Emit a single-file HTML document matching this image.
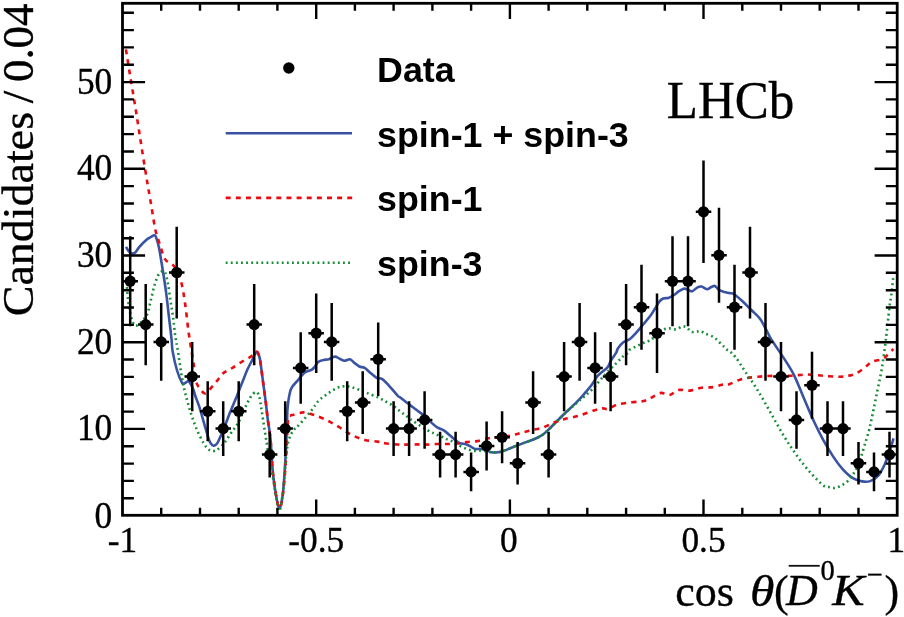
<!DOCTYPE html>
<html lang="en"><head><meta charset="utf-8"><title>LHCb cos theta</title>
<style>html,body{margin:0;padding:0;background:#fff}svg{display:block}.ser{font-family:"Liberation Serif",serif;fill:#000;stroke:#000;stroke-width:0.35}.san{font-family:"Liberation Sans",sans-serif;font-weight:bold;fill:#000}</style></head><body>
<svg width="904" height="617" viewBox="0 0 904 617">
<rect width="904" height="617" fill="#fff"/>
<g fill="none" stroke-width="2.6" stroke-linejoin="round">
<path d="M126.0,246.9C126.4,247.6 127.6,249.9 128.5,251.0C129.4,252.1 130.3,252.9 131.4,253.2C132.5,253.5 133.6,253.9 134.9,252.8C136.2,251.8 137.5,249.1 139.4,246.9C141.3,244.7 144.6,241.5 146.5,239.8C148.4,238.2 149.7,237.8 151.0,237.0C152.3,236.2 153.6,235.1 154.5,235.3C155.4,235.5 155.6,235.9 156.3,238.0C157.1,240.1 157.9,242.6 159.0,247.8C160.1,253.0 161.4,261.8 162.6,269.2C163.8,276.6 165.1,284.7 166.1,292.4C167.1,300.1 167.9,307.9 168.8,315.6C169.7,323.3 170.9,332.9 171.5,338.8C172.1,344.7 171.7,345.9 172.6,351.1C173.5,356.3 175.3,364.6 176.9,370.0C178.5,375.4 181.0,381.1 182.3,383.3C183.6,385.5 183.9,383.4 184.9,383.1C185.9,382.8 187.2,381.1 188.2,381.3C189.2,381.5 190.0,382.9 190.9,384.4C191.8,385.8 192.7,388.0 193.5,390.0C194.3,392.0 194.5,393.6 195.5,396.5C196.5,399.4 197.9,402.4 199.5,407.3C201.1,412.2 203.2,420.5 204.8,425.8C206.4,431.1 207.8,436.1 208.8,439.1C209.8,442.1 210.2,442.7 211.0,443.8C211.8,444.9 212.7,445.7 213.5,445.8C214.3,445.9 215.2,445.3 216.0,444.6C216.8,443.9 216.9,444.3 218.1,441.8C219.3,439.3 221.4,434.7 223.4,429.8C225.4,424.9 227.8,418.2 230.0,412.6C232.2,407.0 234.7,401.3 236.7,396.4C238.7,391.5 240.2,387.5 242.0,383.1C243.8,378.7 245.5,373.8 247.3,369.8C249.1,365.8 251.3,361.9 252.6,359.2C253.9,356.5 254.5,354.8 255.3,353.6C256.1,352.4 256.5,351.4 257.2,351.9C257.9,352.4 258.7,354.6 259.3,356.5C259.9,358.4 260.0,358.8 260.6,363.2C261.2,367.6 262.3,376.4 263.2,383.1C264.1,389.8 265.1,397.1 265.9,403.3C266.7,409.5 267.2,415.4 267.9,420.5C268.6,425.6 269.4,429.7 269.9,433.8C270.4,437.9 270.5,438.3 271.0,445.0C271.5,451.7 272.0,464.6 273.0,473.8C274.0,483.0 275.8,494.3 276.9,500.0C278.0,505.7 278.9,508.7 279.8,508.0C280.8,507.3 281.8,501.3 282.6,495.6C283.4,489.9 284.0,481.1 284.5,473.8C285.0,466.5 285.4,460.0 285.8,451.9C286.2,443.8 286.7,432.6 287.0,425.0C287.3,417.4 287.0,412.4 287.7,406.4C288.4,400.4 289.2,393.5 291.0,389.1C292.8,384.7 296.0,382.6 298.3,379.8C300.6,377.0 302.7,374.1 304.9,372.5C307.1,370.9 309.8,370.9 311.5,369.9C313.2,368.9 313.8,367.8 314.9,366.5C316.0,365.2 316.8,363.0 318.2,361.9C319.6,360.8 321.7,360.3 323.5,359.9C325.3,359.4 326.9,359.8 328.8,359.2C330.7,358.6 333.0,356.7 334.8,356.6C336.6,356.5 337.8,357.9 339.4,358.6C340.9,359.3 342.3,360.7 344.1,360.8C345.9,360.9 348.4,358.9 350.0,359.2C351.6,359.5 352.4,361.4 354.0,362.6C355.6,363.8 357.5,365.6 359.3,366.5C361.1,367.4 362.8,366.9 364.6,367.9C366.4,368.9 368.0,370.9 370.0,372.5C372.0,374.1 374.6,376.8 376.6,377.8C378.6,378.9 379.9,377.6 381.9,378.8C383.9,380.0 385.9,382.3 388.5,385.1C391.1,387.9 395.9,393.8 397.8,395.8C399.7,397.8 398.1,395.8 400.0,397.3C401.9,398.8 406.4,402.4 409.3,404.6C412.2,406.8 414.7,408.5 417.3,410.5C419.9,412.5 422.8,414.4 425.2,416.5C427.6,418.6 429.9,421.3 431.9,423.1C433.9,424.9 435.2,426.2 437.2,427.4C439.2,428.6 441.6,429.0 443.8,430.4C446.0,431.8 448.4,434.1 450.4,435.8C452.4,437.5 454.2,439.2 455.8,440.4C457.4,441.6 457.9,442.4 459.7,443.1C461.5,443.8 464.6,443.8 466.4,444.4C468.2,444.9 469.0,445.6 470.4,446.4C471.8,447.2 473.5,448.6 475.0,449.0C476.5,449.4 477.9,448.9 479.6,449.0C481.3,449.1 483.0,449.1 485.0,449.7C487.0,450.2 489.4,451.9 491.6,452.3C493.8,452.7 496.0,452.6 498.2,452.3C500.4,452.0 502.7,451.2 504.9,450.4C507.1,449.6 509.0,448.7 511.5,447.7C514.0,446.7 517.6,445.3 520.0,444.4C522.4,443.5 523.4,443.1 526.0,442.1C528.6,441.1 532.9,439.8 535.7,438.5C538.5,437.2 540.9,436.0 543.0,434.5C545.1,433.0 545.1,432.9 548.5,429.6C551.9,426.4 558.5,419.5 563.1,415.0C567.8,410.5 572.9,405.9 576.4,402.4C579.9,398.9 581.6,396.9 584.3,393.8C586.9,390.7 590.1,386.9 592.3,383.9C594.5,380.9 595.8,378.0 597.6,375.9C599.4,373.8 601.2,372.6 602.9,371.2C604.6,369.8 606.3,369.1 607.6,367.3C608.9,365.5 609.5,363.0 610.9,360.6C612.3,358.2 615.0,354.8 616.2,352.7C617.4,350.6 616.8,350.0 618.0,348.3C619.2,346.6 621.3,343.9 623.3,342.3C625.3,340.8 627.7,340.6 629.9,339.0C632.1,337.4 634.3,334.8 636.5,332.4C638.7,330.0 641.0,327.0 643.2,324.4C645.4,321.8 647.8,319.1 649.8,316.5C651.8,313.9 653.5,310.9 655.1,308.5C656.7,306.1 657.8,303.6 659.1,301.9C660.4,300.2 661.6,299.2 663.1,298.5C664.6,297.8 666.6,298.4 668.4,297.9C670.2,297.3 671.9,296.3 673.7,295.2C675.5,294.1 677.2,292.3 679.0,291.2C680.8,290.1 682.8,288.8 684.3,288.6C685.8,288.4 687.0,289.5 688.3,289.9C689.6,290.3 690.8,291.6 692.3,291.2C693.8,290.8 696.0,288.1 697.6,287.3C699.2,286.5 700.1,286.3 701.6,286.6C703.1,286.9 705.4,289.1 706.9,289.2C708.4,289.3 709.6,287.9 710.9,287.3C712.2,286.8 713.6,285.5 714.9,285.9C716.2,286.3 717.3,288.9 718.9,289.9C720.5,290.9 722.4,291.3 724.2,291.9C726.1,292.4 728.4,292.8 730.0,293.2C731.6,293.6 731.7,292.6 733.8,294.0C735.9,295.4 739.6,298.6 742.5,301.3C745.4,304.0 748.4,307.1 751.3,310.0C754.2,312.9 757.3,315.2 760.0,318.8C762.7,322.4 765.4,328.5 767.3,331.9C769.2,335.3 768.5,334.9 771.3,339.4C774.1,343.9 780.5,352.9 784.3,358.9C788.1,364.8 790.8,368.6 794.0,375.1C797.2,381.6 800.5,390.2 803.7,397.8C807.0,405.4 810.2,413.5 813.5,420.5C816.8,427.5 820.0,434.0 823.2,439.9C826.4,445.8 829.7,451.2 832.9,456.1C836.1,461.0 839.4,465.5 842.6,469.1C845.9,472.7 849.1,475.8 852.4,477.9C855.6,479.9 859.1,480.9 862.1,481.4C865.1,481.9 867.5,482.1 870.2,481.1C872.9,480.1 875.9,478.4 878.3,475.6C880.7,472.8 882.9,468.2 884.8,464.2C886.7,460.1 888.1,455.6 889.6,451.3C891.1,447.0 892.9,440.5 893.5,438.3" stroke="#3953a4"/>
<path d="M125.9,49.4C126.6,53.7 128.5,65.7 130.0,75.0C131.5,84.3 133.3,94.7 135.0,105.0C136.7,115.3 138.1,124.8 140.0,137.0C141.9,149.2 144.9,168.1 146.6,178.3C148.3,188.5 148.5,189.4 150.0,198.0C151.5,206.6 153.8,222.3 155.4,230.0C157.1,237.7 158.3,239.4 159.9,244.3C161.5,249.2 162.8,255.7 165.2,259.4C167.6,263.1 171.5,262.7 174.2,266.5C176.9,270.3 179.4,276.1 181.2,282.3C183.0,288.5 183.9,295.8 185.1,303.7C186.3,311.6 187.3,322.7 188.3,330.0C189.3,337.3 190.0,341.8 190.9,347.3C191.8,352.8 192.6,357.4 193.5,363.2C194.4,368.9 195.0,377.4 196.2,381.8C197.4,386.2 199.4,387.8 200.8,389.7C202.2,391.6 203.4,393.5 204.8,393.5C206.2,393.5 207.5,391.8 209.5,389.7C211.5,387.6 214.5,383.9 216.8,381.1C219.1,378.3 221.0,375.2 223.4,373.1C225.8,371.0 228.5,370.3 231.4,368.5C234.3,366.7 237.6,364.4 240.7,362.5C243.8,360.6 247.6,358.8 250.0,357.2C252.4,355.6 254.1,354.1 255.3,353.2C256.5,352.3 256.5,351.3 257.2,351.9C257.9,352.4 258.7,354.6 259.3,356.5C259.9,358.4 260.0,358.8 260.6,363.2C261.2,367.6 262.3,376.4 263.2,383.1C264.1,389.8 265.1,397.1 265.9,403.3C266.7,409.5 267.2,415.4 267.9,420.5C268.6,425.6 269.4,429.7 269.9,433.8C270.4,437.9 270.5,438.3 271.0,445.0C271.5,451.7 272.0,464.6 273.0,473.8C274.0,483.0 275.8,494.3 276.9,500.0C278.0,505.7 278.8,508.7 279.8,508.0C280.8,507.3 281.9,501.3 282.7,495.6C283.5,489.9 284.3,481.1 284.9,473.8C285.5,466.5 285.9,460.9 286.4,451.9C286.9,442.9 287.4,426.1 288.1,420.0C288.8,413.9 289.6,416.4 290.5,415.5C291.4,414.6 291.5,415.2 293.6,414.7C295.7,414.2 300.1,412.4 303.3,412.4C306.6,412.4 309.3,413.5 313.1,414.7C316.9,415.9 321.7,417.8 326.0,419.8C330.3,421.9 334.7,424.4 339.0,427.0C343.3,429.6 347.7,433.0 352.0,435.1C356.3,437.2 360.6,438.8 364.9,439.9C369.2,441.0 374.5,441.0 377.9,441.6C381.2,442.2 381.8,442.8 385.0,443.3C388.2,443.8 393.8,444.3 397.2,444.5C400.6,444.7 401.9,444.6 405.3,444.6C408.7,444.6 413.8,444.4 417.3,444.4C420.8,444.4 423.2,444.7 426.5,444.6C429.8,444.5 433.6,444.1 437.2,444.0C440.8,443.9 444.5,444.1 447.8,444.0C451.1,443.9 454.0,443.8 457.1,443.5C460.2,443.2 463.1,442.5 466.4,442.1C469.7,441.7 473.5,441.7 477.0,441.1C480.5,440.5 484.5,439.0 487.6,438.4C490.7,437.8 491.8,438.1 495.6,437.7C499.4,437.3 506.1,436.6 510.2,435.8C514.3,435.0 516.5,434.0 520.0,433.1C523.5,432.2 527.1,431.3 530.9,430.4C534.7,429.5 539.0,428.9 543.0,427.5C547.0,426.1 551.6,423.4 555.2,422.0C558.9,420.6 560.9,420.1 564.9,419.0C568.9,417.9 574.4,417.1 579.2,415.7C584.0,414.3 589.9,411.6 593.8,410.4C597.7,409.2 600.1,408.6 602.5,408.4C604.9,408.2 605.9,409.6 608.3,409.0C610.7,408.4 613.2,405.7 617.1,404.6C621.0,403.5 627.3,402.9 631.7,402.3C636.1,401.7 640.0,401.9 643.4,401.1C646.8,400.3 649.2,398.7 652.1,397.3C655.0,395.9 658.0,393.3 660.9,392.9C663.8,392.5 666.7,395.5 669.6,395.0C672.5,394.5 675.0,390.7 678.4,390.0C681.8,389.3 686.1,391.0 690.0,390.6C693.9,390.2 697.8,388.3 701.7,387.7C705.6,387.1 710.0,387.6 713.4,387.1C716.8,386.6 719.5,385.3 722.1,384.8C724.7,384.3 725.9,385.2 729.2,384.2C732.5,383.2 737.2,380.2 742.1,379.0C747.0,377.8 752.9,377.2 758.3,376.7C763.7,376.2 769.2,375.9 774.6,375.8C780.0,375.7 785.4,376.0 790.8,375.8C796.2,375.6 801.6,374.5 807.0,374.5C812.4,374.5 817.8,375.4 823.2,375.8C828.6,376.2 835.3,376.7 839.4,376.7C843.5,376.7 845.3,376.3 848.0,375.8C850.7,375.3 853.0,375.0 855.7,373.7C858.4,372.4 861.7,369.8 864.4,367.9C867.1,365.9 868.8,363.5 871.7,362.0C874.6,360.5 879.2,360.3 881.9,359.1C884.6,357.9 885.8,356.5 887.7,354.8C889.6,353.1 892.4,349.9 893.3,348.9" stroke="#eb0a10" stroke-dasharray="4.95 5.18"/>
<path d="M126.9,287.0C127.1,288.8 127.3,293.8 127.8,297.7C128.2,301.6 128.8,306.3 129.6,310.2C130.3,314.1 131.4,318.4 132.3,320.9C133.2,323.4 133.8,324.8 134.9,325.4C136.0,326.0 137.7,325.4 139.0,324.5C140.3,323.6 141.6,321.8 143.0,320.0C144.4,318.2 146.1,317.2 147.4,313.8C148.7,310.4 149.8,304.2 151.0,299.5C152.2,294.8 153.3,289.3 154.5,285.3C155.7,281.3 156.9,277.8 158.1,275.5C159.3,273.2 160.5,271.8 161.7,271.4C162.9,270.9 164.2,270.8 165.2,272.8C166.2,274.8 167.0,278.8 167.9,283.5C168.8,288.2 169.7,295.4 170.6,301.3C171.5,307.2 172.5,313.2 173.3,319.1C174.1,325.1 174.6,331.7 175.4,337.0C176.2,342.3 177.0,345.2 177.9,351.1C178.8,357.0 180.2,366.8 181.1,372.1C181.9,377.4 182.4,379.7 183.0,383.0C183.6,386.3 184.1,388.9 184.9,392.0C185.7,395.1 186.5,398.0 187.6,401.9C188.7,405.8 189.9,410.5 191.5,415.2C193.1,419.9 194.9,425.1 196.9,429.8C198.9,434.5 201.7,439.9 203.5,443.1C205.3,446.3 206.7,447.5 208.0,448.8C209.3,450.1 210.3,450.8 211.5,451.1C212.7,451.4 213.9,451.1 215.0,450.8C216.1,450.5 216.5,450.5 218.1,449.1C219.7,447.7 222.5,445.2 224.7,442.4C226.9,439.6 229.2,435.7 231.4,432.5C233.6,429.3 235.8,427.2 238.0,423.2C240.2,419.2 242.6,412.8 244.6,408.6C246.6,404.4 248.5,400.5 250.0,398.0C251.5,395.5 252.5,394.5 253.5,393.5C254.5,392.5 255.2,392.0 255.9,392.0C256.6,392.0 257.2,392.5 257.8,393.3C258.4,394.1 258.7,394.3 259.3,396.6C259.9,398.9 260.6,403.3 261.2,407.3C261.8,411.3 262.5,416.1 263.2,420.5C263.9,424.9 264.5,429.6 265.2,433.8C265.9,438.0 266.5,441.8 267.2,445.8C267.9,449.8 268.4,453.0 269.3,458.0C270.2,463.0 271.2,467.8 272.6,475.6C274.0,483.4 276.2,499.1 277.4,504.8C278.6,510.5 278.8,512.5 279.8,510.0C280.8,507.5 282.1,499.0 283.2,490.0C284.3,481.0 285.3,464.3 286.2,456.0C287.1,447.7 287.6,444.3 288.8,440.0C290.0,435.7 291.7,432.9 293.6,430.2C295.5,427.5 297.1,427.0 300.1,423.7C303.1,420.4 308.5,414.2 311.5,410.4C314.5,406.6 316.0,403.5 318.2,401.1C320.4,398.7 322.6,397.5 324.8,395.8C327.0,394.1 329.3,392.5 331.5,391.1C333.7,389.7 335.9,388.3 338.1,387.5C340.3,386.7 342.5,386.3 344.7,386.2C346.9,386.1 349.0,386.5 351.4,387.1C353.8,387.7 356.6,388.8 359.3,389.8C362.0,390.8 364.2,391.9 367.3,393.1C370.4,394.4 374.8,395.9 377.9,397.3C381.0,398.7 383.2,400.2 385.9,401.7C388.6,403.2 391.5,404.8 393.9,406.4C396.2,408.0 398.1,409.7 400.0,411.2C401.9,412.7 403.5,413.9 405.3,415.2C407.1,416.5 408.3,417.6 410.6,419.2C412.9,420.8 416.1,423.1 419.0,425.0C421.9,426.9 425.3,428.9 427.9,430.4C430.5,431.9 432.3,432.8 434.5,433.8C436.7,434.8 439.2,435.5 441.2,436.4C443.2,437.3 444.7,438.3 446.5,439.1C448.3,439.9 450.2,440.3 451.8,441.1C453.4,441.9 454.0,442.7 455.8,443.7C457.6,444.7 460.2,446.0 462.4,447.0C464.6,448.0 466.8,449.0 469.0,449.7C471.2,450.4 473.5,450.9 475.7,451.0C477.9,451.1 480.3,450.3 482.3,450.4C484.3,450.5 486.1,451.4 487.6,451.7C489.2,452.0 489.8,452.2 491.6,452.3C493.4,452.4 496.0,452.6 498.2,452.3C500.4,452.0 502.7,451.2 504.9,450.4C507.1,449.6 509.0,448.7 511.5,447.7C514.0,446.7 517.6,445.3 520.0,444.4C522.4,443.5 523.4,443.1 526.0,442.1C528.6,441.1 532.9,439.8 535.7,438.5C538.5,437.2 540.9,436.0 543.0,434.5C545.1,433.0 545.1,432.9 548.5,429.6C551.9,426.4 558.5,419.4 563.1,415.0C567.8,410.6 572.9,406.2 576.4,403.1C579.9,400.0 581.6,398.8 584.3,396.5C586.9,394.2 589.6,392.0 592.3,389.2C595.0,386.4 597.6,382.9 600.3,379.9C602.9,376.9 605.6,374.0 608.2,371.2C610.9,368.4 613.8,365.7 616.2,363.3C618.6,360.9 620.8,358.4 622.8,356.6C624.8,354.8 626.9,353.9 628.1,352.7C629.3,351.5 628.5,350.7 629.9,349.6C631.3,348.5 634.3,347.4 636.5,346.3C638.7,345.2 641.0,344.0 643.2,343.0C645.4,342.0 647.8,341.5 649.8,340.4C651.8,339.3 652.9,338.2 655.1,336.4C657.3,334.6 660.7,331.0 663.1,329.7C665.5,328.4 667.5,328.5 669.7,328.4C671.9,328.3 674.3,329.6 676.4,329.3C678.5,329.0 680.5,326.7 682.3,326.4C684.1,326.1 685.5,326.8 687.0,327.7C688.5,328.6 689.5,331.0 691.0,331.7C692.5,332.4 694.8,331.8 696.3,331.7C697.8,331.6 698.8,330.8 700.3,331.1C701.8,331.4 703.4,332.7 705.6,333.7C707.8,334.7 711.3,335.7 713.5,337.0C715.7,338.3 717.1,340.0 718.9,341.7C720.7,343.4 722.9,345.7 724.2,347.0C725.5,348.3 725.8,348.9 726.8,349.6C727.8,350.4 728.5,350.2 730.0,351.5C731.5,352.8 733.1,353.9 735.7,357.3C738.3,360.7 741.6,366.2 745.4,371.9C749.2,377.6 754.0,384.3 758.3,391.3C762.6,398.3 767.0,406.4 771.3,414.0C775.6,421.6 780.0,429.7 784.3,436.7C788.6,443.7 792.9,450.2 797.2,456.1C801.5,462.1 805.9,467.5 810.2,472.4C814.5,477.3 820.3,482.9 823.2,485.3C826.1,487.7 825.9,486.4 827.8,486.8C829.7,487.2 832.2,488.2 834.4,488.0C836.6,487.8 838.9,486.8 841.1,485.7C843.3,484.6 845.7,483.0 847.7,481.1C849.7,479.2 851.5,476.6 853.0,474.4C854.5,472.2 855.7,470.7 857.0,467.8C858.3,464.9 859.7,461.2 861.0,457.2C862.3,453.2 863.7,448.3 865.0,443.9C866.3,439.5 867.9,434.8 869.0,430.6C870.1,426.5 870.4,424.6 871.6,419.0C872.8,413.4 874.4,405.5 876.1,397.0C877.8,388.5 880.2,378.1 881.9,367.9C883.6,357.7 885.1,345.5 886.3,335.8C887.5,326.1 888.4,316.4 889.2,309.6C890.0,302.8 890.6,300.3 891.3,295.0C892.0,289.7 892.9,280.6 893.2,277.7" stroke="#168c34" stroke-dasharray="1.85 3.25"/>
<path d="M225.7,133.2H352" stroke="#3953a4"/>
<path d="M225.7,197.9H352.2" stroke="#eb0a10" stroke-dasharray="4.95 5.18"/>
<path d="M225.7,262.8H350" stroke="#168c34" stroke-dasharray="1.85 3.25"/>
</g>
<g stroke="#000" fill="none">
<rect x="122.5" y="3.3" width="774.7" height="512.0" stroke-width="2.8"/>
<path d="M161.2,3.3v7.5M161.2,515.3v-7.5M200.0,3.3v7.5M200.0,515.3v-7.5M238.7,3.3v7.5M238.7,515.3v-7.5M277.4,3.3v7.5M277.4,515.3v-7.5M316.2,3.3v15.7M316.2,515.3v-15.7M354.9,3.3v7.5M354.9,515.3v-7.5M393.6,3.3v7.5M393.6,515.3v-7.5M432.4,3.3v7.5M432.4,515.3v-7.5M471.1,3.3v7.5M471.1,515.3v-7.5M509.9,3.3v15.7M509.9,515.3v-15.7M548.6,3.3v7.5M548.6,515.3v-7.5M587.3,3.3v7.5M587.3,515.3v-7.5M626.1,3.3v7.5M626.1,515.3v-7.5M664.8,3.3v7.5M664.8,515.3v-7.5M703.5,3.3v15.7M703.5,515.3v-15.7M742.3,3.3v7.5M742.3,515.3v-7.5M781.0,3.3v7.5M781.0,515.3v-7.5M819.7,3.3v7.5M819.7,515.3v-7.5M858.5,3.3v7.5M858.5,515.3v-7.5M122.5,498.3h11.4M897.2,498.3h-11.4M122.5,480.9h11.4M897.2,480.9h-11.4M122.5,463.6h11.4M897.2,463.6h-11.4M122.5,446.2h11.4M897.2,446.2h-11.4M122.5,428.9h22.6M897.2,428.9h-22.6M122.5,411.6h11.4M897.2,411.6h-11.4M122.5,394.2h11.4M897.2,394.2h-11.4M122.5,376.9h11.4M897.2,376.9h-11.4M122.5,359.5h11.4M897.2,359.5h-11.4M122.5,342.2h22.6M897.2,342.2h-22.6M122.5,324.9h11.4M897.2,324.9h-11.4M122.5,307.5h11.4M897.2,307.5h-11.4M122.5,290.2h11.4M897.2,290.2h-11.4M122.5,272.8h11.4M897.2,272.8h-11.4M122.5,255.5h22.6M897.2,255.5h-22.6M122.5,238.2h11.4M897.2,238.2h-11.4M122.5,220.8h11.4M897.2,220.8h-11.4M122.5,203.5h11.4M897.2,203.5h-11.4M122.5,186.1h11.4M897.2,186.1h-11.4M122.5,168.8h22.6M897.2,168.8h-22.6M122.5,151.5h11.4M897.2,151.5h-11.4M122.5,134.1h11.4M897.2,134.1h-11.4M122.5,116.8h11.4M897.2,116.8h-11.4M122.5,99.4h11.4M897.2,99.4h-11.4M122.5,82.1h22.6M897.2,82.1h-22.6M122.5,64.8h11.4M897.2,64.8h-11.4M122.5,47.4h11.4M897.2,47.4h-11.4M122.5,30.1h11.4M897.2,30.1h-11.4M122.5,12.7h11.4M897.2,12.7h-11.4" stroke-width="2.4"/>
</g>
<path d="M130.2,236.2V326.3M122.5,281.2H138.0M145.7,283.9V365.2M138.0,324.6H153.5M161.2,303.1V380.7M153.5,341.9H169.0M176.7,226.7V318.4M169.0,272.5H184.5M192.2,341.9V411.3M184.5,376.6H200.0M207.7,381.2V441.3M200.0,411.3H215.5M223.2,401.2V456.0M215.5,428.6H231.0M238.7,381.2V441.3M231.0,411.3H246.5M254.2,283.9V365.2M246.5,324.6H261.9M269.7,431.7V477.5M261.9,454.6H277.4M285.2,401.2V456.0M277.4,428.6H292.9M300.7,332.2V403.7M292.9,367.9H308.4M316.2,293.5V373.0M308.4,333.2H323.9M331.7,303.1V380.7M323.9,341.9H339.4M347.2,381.2V441.3M339.4,411.3H354.9M362.7,371.3V433.9M354.9,402.6H370.4M378.2,322.5V396.0M370.4,359.2H385.9M393.6,401.2V456.0M385.9,428.6H401.4M409.1,401.2V456.0M401.4,428.6H416.9M424.6,391.2V448.7M416.9,419.9H432.4M440.1,431.7V477.5M432.4,454.6H447.9M455.6,431.7V477.5M447.9,454.6H463.4M471.1,452.6V491.3M463.4,471.9H478.9M486.6,421.4V470.5M478.9,445.9H494.4M502.1,411.3V463.3M494.4,437.3H509.9M517.6,442.0V484.5M509.8,463.3H525.3M533.1,371.3V433.9M525.3,402.6H540.8M548.6,431.7V477.5M540.8,454.6H556.3M564.1,341.9V411.3M556.3,376.6H571.8M579.6,303.1V380.7M571.8,341.9H587.3M595.1,332.2V403.7M587.3,367.9H602.8M610.6,341.9V411.3M602.8,376.6H618.3M626.1,283.9V365.2M618.3,324.6H633.8M641.5,264.7V349.7M633.8,307.2H649.3M657.0,293.5V373.0M649.3,333.2H664.8M672.5,236.2V326.3M664.8,281.2H680.3M688.0,236.2V326.3M680.3,281.2H695.8M703.5,160.6V263.1M695.8,211.8H711.3M719.0,207.7V302.7M711.3,255.2H726.8M734.5,264.7V349.7M726.8,307.2H742.3M750.0,226.7V318.4M742.3,272.5H757.8M765.5,303.1V380.7M757.8,341.9H773.2M781.0,341.9V411.3M773.2,376.6H788.7M796.5,391.2V448.7M788.7,419.9H804.2M812.0,351.7V418.8M804.2,385.2H819.7M827.5,401.2V456.0M819.7,428.6H835.2M843.0,401.2V456.0M835.2,428.6H850.7M858.5,442.0V484.5M850.7,463.3H866.2M874.0,452.6V491.3M866.2,471.9H881.7M889.5,431.7V477.5M881.7,454.6H897.2" stroke="#000" stroke-width="2.5" fill="none"/>
<g fill="#000"><circle cx="130.2" cy="281.2" r="5.6"/><circle cx="145.7" cy="324.6" r="5.6"/><circle cx="161.2" cy="341.9" r="5.6"/><circle cx="176.7" cy="272.5" r="5.6"/><circle cx="192.2" cy="376.6" r="5.6"/><circle cx="207.7" cy="411.3" r="5.6"/><circle cx="223.2" cy="428.6" r="5.6"/><circle cx="238.7" cy="411.3" r="5.6"/><circle cx="254.2" cy="324.6" r="5.6"/><circle cx="269.7" cy="454.6" r="5.6"/><circle cx="285.2" cy="428.6" r="5.6"/><circle cx="300.7" cy="367.9" r="5.6"/><circle cx="316.2" cy="333.2" r="5.6"/><circle cx="331.7" cy="341.9" r="5.6"/><circle cx="347.2" cy="411.3" r="5.6"/><circle cx="362.7" cy="402.6" r="5.6"/><circle cx="378.2" cy="359.2" r="5.6"/><circle cx="393.6" cy="428.6" r="5.6"/><circle cx="409.1" cy="428.6" r="5.6"/><circle cx="424.6" cy="419.9" r="5.6"/><circle cx="440.1" cy="454.6" r="5.6"/><circle cx="455.6" cy="454.6" r="5.6"/><circle cx="471.1" cy="471.9" r="5.6"/><circle cx="486.6" cy="445.9" r="5.6"/><circle cx="502.1" cy="437.3" r="5.6"/><circle cx="517.6" cy="463.3" r="5.6"/><circle cx="533.1" cy="402.6" r="5.6"/><circle cx="548.6" cy="454.6" r="5.6"/><circle cx="564.1" cy="376.6" r="5.6"/><circle cx="579.6" cy="341.9" r="5.6"/><circle cx="595.1" cy="367.9" r="5.6"/><circle cx="610.6" cy="376.6" r="5.6"/><circle cx="626.1" cy="324.6" r="5.6"/><circle cx="641.5" cy="307.2" r="5.6"/><circle cx="657.0" cy="333.2" r="5.6"/><circle cx="672.5" cy="281.2" r="5.6"/><circle cx="688.0" cy="281.2" r="5.6"/><circle cx="703.5" cy="211.8" r="5.6"/><circle cx="719.0" cy="255.2" r="5.6"/><circle cx="734.5" cy="307.2" r="5.6"/><circle cx="750.0" cy="272.5" r="5.6"/><circle cx="765.5" cy="341.9" r="5.6"/><circle cx="781.0" cy="376.6" r="5.6"/><circle cx="796.5" cy="419.9" r="5.6"/><circle cx="812.0" cy="385.2" r="5.6"/><circle cx="827.5" cy="428.6" r="5.6"/><circle cx="843.0" cy="428.6" r="5.6"/><circle cx="858.5" cy="463.3" r="5.6"/><circle cx="874.0" cy="471.9" r="5.6"/><circle cx="889.5" cy="454.6" r="5.6"/><circle cx="288.8" cy="68" r="5.7"/></g>
<g class="ser" font-size="36">
<text transform="translate(112.3,527.8) scale(0.983,1.035)" text-anchor="end">0</text>
<text transform="translate(112.3,440.3) scale(0.983,1.035)" text-anchor="end">10</text>
<text transform="translate(112.3,353.6) scale(0.983,1.035)" text-anchor="end">20</text>
<text transform="translate(112.3,266.9) scale(0.983,1.035)" text-anchor="end">30</text>
<text transform="translate(112.3,180.2) scale(0.983,1.035)" text-anchor="end">40</text>
<text transform="translate(112.3,93.5) scale(0.983,1.035)" text-anchor="end">50</text>
<text transform="translate(122.5,552.4) scale(0.98,1.02)" text-anchor="middle">-1</text>
<text transform="translate(316.2,552.4) scale(0.98,1.02)" text-anchor="middle">-0.5</text>
<text transform="translate(508.9,552.4) scale(0.98,1.02)" text-anchor="middle">0</text>
<text transform="translate(703.5,552.4) scale(0.98,1.02)" text-anchor="middle">0.5</text>
<text transform="translate(896.4,552.4) scale(0.98,1.02)" text-anchor="middle">1</text>
</g>
<text class="ser" font-size="44.9" text-anchor="end" transform="translate(32.7,3.5) rotate(-90) scale(1,0.965)"><tspan font-size="46">Candidates</tspan><tspan dx="-2.6"> /</tspan><tspan dx="-2.5"> 0.04</tspan></text>
<g class="ser" font-size="44"><text x="675.2" y="606">cos</text><text transform="translate(750.0,606) scale(1.13,1)" font-style="italic">θ</text><text x="774.0" y="606">(</text><text x="786.0" y="605.2" font-style="italic">D</text><text x="820.5" y="579.6" font-size="28.5">0</text><text transform="translate(832.3,605.2) scale(1.1,1)" font-style="italic">K</text><text x="866.5" y="584" font-size="28.5">−</text><text x="884.5" y="606">)</text></g>
<path d="M788.7,565.8H819.7" stroke="#111" stroke-width="1.8"/>
<text class="ser" font-size="51" transform="translate(666.8,117.6) scale(1,1.015)">LHCb</text>
<g class="san" font-size="35.8">
<text x="377.1" y="82.2">Data</text>
<text x="377.1" y="147.0">spin-1 + spin-3</text>
<text x="377.1" y="211.2">spin-1</text>
<text x="377.1" y="276.2">spin-3</text>
</g>
</svg></body></html>
